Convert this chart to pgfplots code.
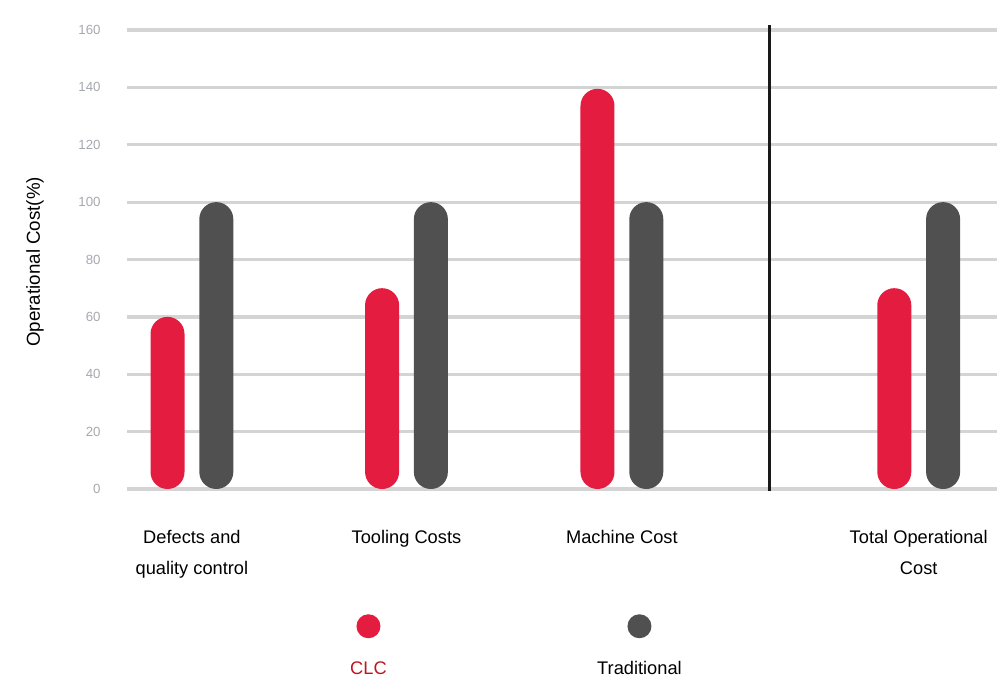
\documentclass[border=0pt]{standalone}
\usepackage{pgfplots}
\pgfplotsset{compat=1.18}
\usepackage{fontspec}
\setmainfont{Liberation Sans}
\definecolor{clcred}{HTML}{E31C40}
\definecolor{tradgray}{HTML}{505050}
\definecolor{clctext}{HTML}{C0141E}
\definecolor{gridgray}{HTML}{D4D4D4}
\definecolor{ticklab}{HTML}{A5A8AE}
\newcommand\legcircle[1]{\tikz[baseline=0pt]{\useasboundingbox (-52.2pt,-8.4pt) rectangle (52.2pt,8.4pt); \fill[#1] (0,0) circle (4.8pt);}}
\newcommand\legtext[2]{\tikz[baseline=0pt]{\useasboundingbox (-52.2pt,-8.4pt) rectangle (52.2pt,8.4pt); \node[inner sep=0pt, anchor=center, text=#1, font=\fontsize{7.3}{8.8}\selectfont] at (0,0) {#2};}}
\begin{document}
\begin{tikzpicture}
\path[use as bounding box] (-50.8pt,-82.8pt) rectangle (349.2pt,195.6pt);
\begin{axis}[
  at={(0pt,0pt)}, anchor=south west, scale only axis,
  width=348pt, height=183.6pt,
  xmin=-0.3019, xmax=3.7447, ymin=0, ymax=160,
  clip=false,
  axis line style={draw=none},
  tick style={draw=none},
  ytick={0,20,...,160},
  ymajorgrids, grid style={gridgray, line width=1.3pt},
  xtick={0,0.998,2,3.3805},
  xticklabels={{Defects and\\quality control},{Tooling Costs},{Machine Cost},{Total Operational\\Cost}},
  xticklabel style={align=center, anchor=north, inner sep=0pt, yshift=-16.2pt, font=\fontsize{7.3}{12.4}\selectfont},
  yticklabel style={anchor=east, inner sep=0pt, xshift=-10.4pt, font=\fontsize{5.3}{6}\selectfont, text=ticklab},
  /pgf/number format/assume math mode=true,
  ylabel={Operational Cost(\%)},
  ylabel style={at={(axis description cs:-0.1057,0.495)}, anchor=center, font=\fontsize{7.5}{8.8}\selectfont},
  legend columns=2,
  legend style={at={(0.4333,-0.3279)}, anchor=center, draw=none, fill=none, inner sep=0pt, outer sep=0pt, column sep=0pt, row sep=3.6pt, cells={anchor=center, inner sep=0pt}},
]
\addplot[ybar, bar width=13.6pt, bar shift=-9.76pt, fill=clcred, draw=none, rounded corners=6.8pt, forget plot]
  coordinates {(0,60) (0.998,70) (2,139.5) (3.3805,70)};
\addplot[ybar, bar width=13.6pt, bar shift=9.76pt, fill=tradgray, draw=none, rounded corners=6.8pt, forget plot]
  coordinates {(0,100) (0.998,100) (2,100) (3.3805,100)};
\draw[black!90, line width=1.2pt] (axis cs:2.6888,-0.7) -- (axis cs:2.6888,161.7);
\addlegendimage{empty legend}
\addlegendentry{\legcircle{clcred}}
\addlegendimage{empty legend}
\addlegendentry{\legcircle{tradgray}}
\addlegendimage{empty legend}
\addlegendentry{\legtext{clctext}{CLC}}
\addlegendimage{empty legend}
\addlegendentry{\legtext{black}{Traditional}}
\end{axis}
\end{tikzpicture}
\end{document}
